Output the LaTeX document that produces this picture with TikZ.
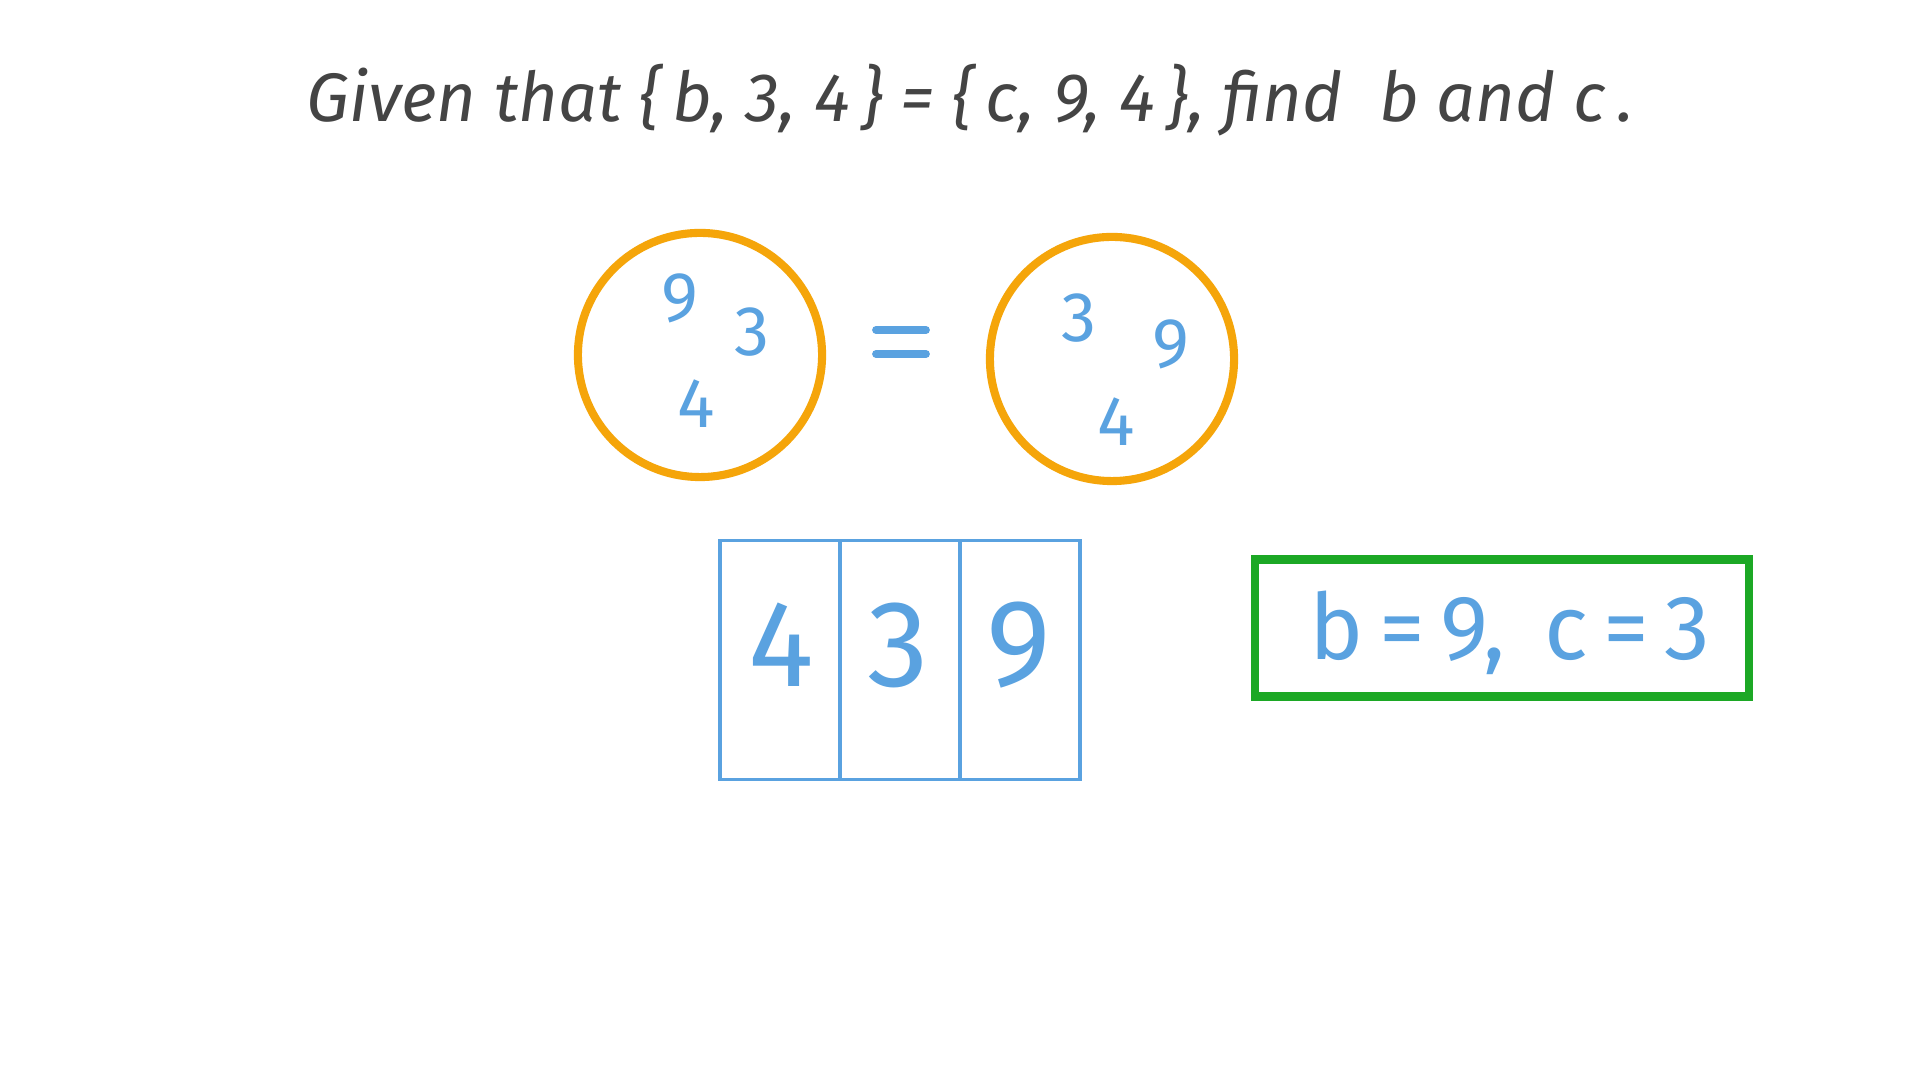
\documentclass[tikz,border=0pt]{standalone}
\usepackage{fontspec}
\setmainfont{Fira Sans}
\definecolor{ink}{HTML}{444444}
\definecolor{setorange}{HTML}{F5A50A}
\definecolor{digitblue}{HTML}{5AA2E0}
\definecolor{answergreen}{HTML}{1CA825}
\begin{document}
\begin{tikzpicture}[x=0.01cm,y=-0.01cm,
  setcircle/.style={circle,draw=setorange,line width=2.3pt,minimum size=2.44cm,inner sep=0pt},
  smalldigit/.style={text=digitblue,font=\fontsize{20}{22}\selectfont,inner sep=0pt},
  bigdigit/.style={text=digitblue,font=\fontsize{35}{38}\selectfont,inner sep=0pt},
  cellbox/.style={rectangle,draw=digitblue,line width=0.9pt,minimum width=1.2cm,minimum height=2.39cm,inner sep=0pt},
  eqbar/.style={draw=digitblue,line width=2.2pt,line cap=round},
  answerbox/.style={rectangle,draw=answergreen,line width=2.4pt,minimum width=4.94cm,minimum height=1.37cm,inner sep=0pt},
  answertext/.style={text=digitblue,font=\fontsize{26}{30}\selectfont,inner sep=0pt},
  titletext/.style={text=ink,font=\itshape\fontsize{19.5}{24}\selectfont,inner sep=0pt}]
\useasboundingbox (0,0) rectangle (1920,1080);
\fill[white] (0,0) rectangle (1920,1080);

% title
\node[titletext] (title) at (970,100) {Given that \{\,b, 3, 4\,\} = \{\,c, 9, 4\,\}, find \;b and c\,.};

% sets
\node[setcircle] (setL) at (700,355) {};
\node[setcircle] (setR) at (1112,359) {};
\node[smalldigit] (l9) at (680,298) {9};
\node[smalldigit] (l3) at (752,332) {3};
\node[smalldigit] (l4) at (696,404) {4};
\node[smalldigit] (r3) at (1079,318) {3};
\node[smalldigit] (r9) at (1171,344) {9};
\node[smalldigit] (r4) at (1116,422) {4};

% equals sign
\coordinate (eqA1) at (876,330);
\coordinate (eqA2) at (926,330);
\coordinate (eqB1) at (876,354);
\coordinate (eqB2) at (926,354);
\draw[eqbar] (eqA1) -- (eqA2);
\draw[eqbar] (eqB1) -- (eqB2);

% table of elements
\node[cellbox] (cell1) at (780,660) {};
\node[cellbox] (cell2) at (900,660) {};
\node[cellbox] (cell3) at (1020,660) {};
\node[bigdigit] (t4) at (781,645) {4};
\node[bigdigit] (t3) at (898,645) {3};
\node[bigdigit] (t9) at (1019,645) {9};

% answer
\node[answerbox] (answer) at (1502,628) {};
\node[answertext] (answertxt) at (1510,633) {b\,=\,9, \,c\,=\,3};
\end{tikzpicture}
\end{document}
